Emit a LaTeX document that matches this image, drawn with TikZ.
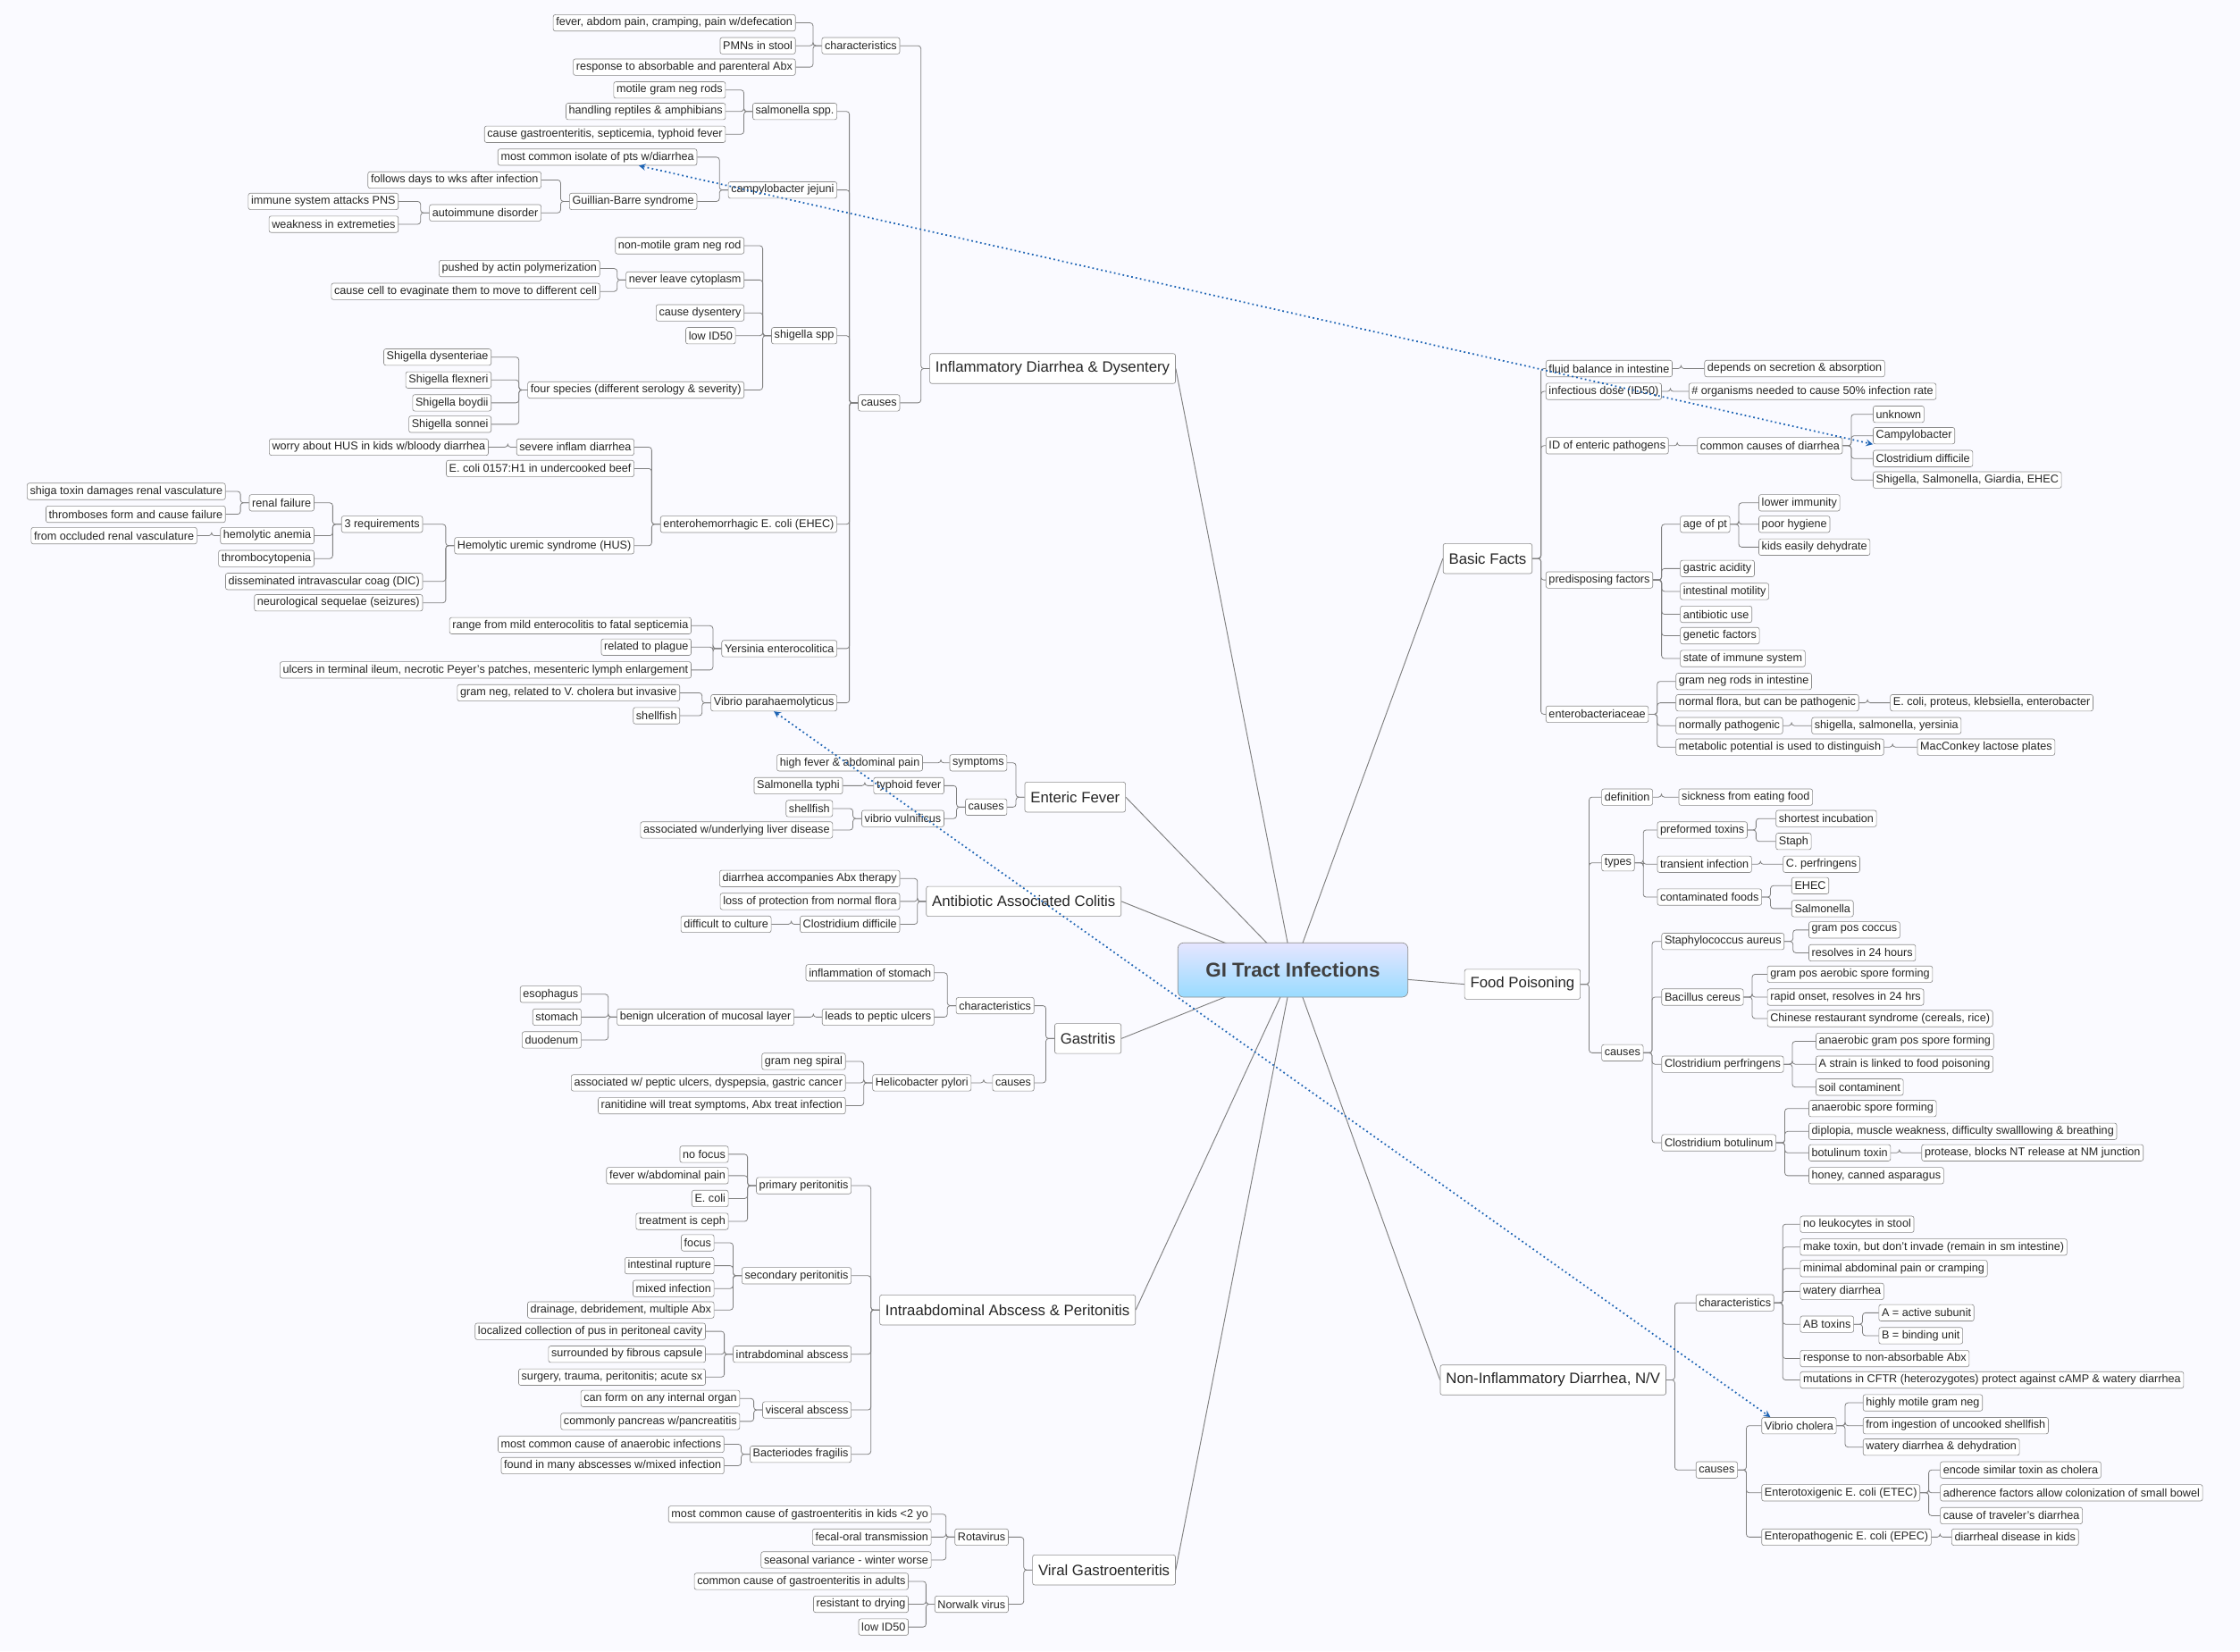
\documentclass[tikz,border=0pt]{standalone}
\usepackage{fontspec}
\setmainfont{Liberation Sans}
\pgfdeclarelayer{bg}\pgfsetlayers{bg,main}
\definecolor{relc}{RGB}{30,100,180}
\tikzset{
 leaf/.style={draw=black!45,fill=white,rounded corners=1.5pt,font=\fontsize{7.9}{8.5}\selectfont,inner xsep=2pt,inner ysep=0pt,minimum height=11.5pt,text=black!85},
 topic/.style={leaf,font=\fontsize{10.5}{11}\selectfont,minimum height=21pt,inner xsep=4pt},
 conn/.style={draw=black!50,line width=0.5pt,rounded corners=2pt},
 main/.style={draw=black!50,line width=0.6pt},
 rel/.style={draw=relc,dotted,line width=1.1pt,<->,>=stealth}
}
\newcommand\Lnd[4]{\node[leaf,anchor=east] (#1) at (#2,#3) {#4};}
\newcommand\Rnd[4]{\node[leaf,anchor=west] (#1) at (#2,#3) {#4};}
\newcommand\cL[2]{\foreach \kid in {#2}{\draw[conn] (#1.west) -- ++(-6,0) |- (\kid.east);}}
\newcommand\cR[2]{\foreach \kid in {#2}{\draw[conn] (#1.east) -- ++(6,0) |- (\kid.west);}}
\begin{document}
\begin{tikzpicture}[x=1pt,y=-1pt]
\begin{pgfonlayer}{bg}
\fill[black!3!blue!2!white] (0,0) rectangle (1568,1156);
\end{pgfonlayer}
\useasboundingbox (0,0) rectangle (1568,1156);
% center
\node[draw=black!45,rounded corners=4pt,top color=blue!10,bottom color=blue!35!cyan!40,minimum width=161pt,minimum height=38pt,font=\fontsize{14}{15}\selectfont\bfseries,text=black!75] (ctr) at (905,679) {GI Tract Infections};
% topics
\node[topic,anchor=east] (t1) at (823,258) {Inflammatory Diarrhea \& Dysentery};
\node[topic,anchor=east] (t2) at (788,558) {Enteric Fever};
\node[topic,anchor=east] (t3) at (785,631) {Antibiotic Associated Colitis};
\node[topic,anchor=east] (t4) at (785,727) {Gastritis};
\node[topic,anchor=east] (t5) at (795,917) {Intraabdominal Abscess \& Peritonitis};
\node[topic,anchor=east] (t6) at (823,1099) {Viral Gastroenteritis};
\node[topic,anchor=west] (t7) at (1010,391) {Basic Facts};
\node[topic,anchor=west] (t8) at (1025,689) {Food Poisoning};
\node[topic,anchor=west] (t9) at (1008,966) {Non-Inflammatory Diarrhea, N/V};
\begin{pgfonlayer}{bg}
\foreach \t in {t1,t2,t3,t4,t5,t6} \draw[main] (ctr.center) -- (\t.east);
\foreach \t in {t7,t8,t9} \draw[main] (ctr.center) -- (\t.west);
\end{pgfonlayer}
% ---------- Inflammatory
\Lnd{a1}{630}{32}{characteristics}
\Lnd{a11}{557}{16}{fever, abdom pain, cramping, pain w/defecation}
\Lnd{a12}{557}{32}{PMNs in stool}
\Lnd{a13}{557}{47}{response to absorbable and parenteral Abx}
\Lnd{a2}{630}{282}{causes}
\Lnd{s}{586}{78}{salmonella spp.}
\Lnd{s1}{508}{63}{motile gram neg rods}
\Lnd{s2}{508}{78}{handling reptiles \& amphibians}
\Lnd{s3}{508}{94}{cause gastroenteritis, septicemia, typhoid fever}
\Lnd{cj}{586}{133}{campylobacter jejuni}
\Lnd{mci}{488}{110}{most common isolate of pts w/diarrhea}
\Lnd{gb}{488}{141}{Guillian-Barre syndrome}
\Lnd{gb1}{379}{126}{follows days to wks after infection}
\Lnd{gb2}{379}{149}{autoimmune disorder}
\Lnd{gb21}{279}{141}{immune system attacks PNS}
\Lnd{gb22}{279}{157}{weakness in extremeties}
\Lnd{sh}{586}{235}{shigella spp}
\Lnd{sh1}{521}{172}{non-motile gram neg rod}
\Lnd{sh2}{521}{196}{never leave cytoplasm}
\Lnd{sh21}{420}{188}{pushed by actin polymerization}
\Lnd{sh22}{420}{204}{cause cell to evaginate them to move to different cell}
\Lnd{sh3}{521}{219}{cause dysentery}
\Lnd{sh4}{515}{235}{low ID50}
\Lnd{sh5}{521}{273}{four species (different serology \& severity)}
\Lnd{sh51}{344}{250}{Shigella dysenteriae}
\Lnd{sh52}{344}{266}{Shigella flexneri}
\Lnd{sh53}{344}{282}{Shigella boydii}
\Lnd{sh54}{344}{297}{Shigella sonnei}
\Lnd{eh}{586}{367}{enterohemorrhagic E. coli (EHEC)}
\Lnd{eh1}{444}{313}{severe inflam diarrhea}
\Lnd{eh11}{342}{313}{worry about HUS in kids w/bloody diarrhea}
\Lnd{eh2}{444}{328}{E. coli 0157:H1 in undercooked beef}
\Lnd{hus}{444}{382}{Hemolytic uremic syndrome (HUS)}
\Lnd{h1}{296}{367}{3 requirements}
\Lnd{h11}{220}{352}{renal failure}
\Lnd{h111}{158}{344}{shiga toxin damages renal vasculature}
\Lnd{h112}{158}{360}{thromboses form and cause failure}
\Lnd{h12}{220}{375}{hemolytic anemia}
\Lnd{h121}{138}{375}{from occluded renal vasculature}
\Lnd{h13}{220}{391}{thrombocytopenia}
\Lnd{h2}{296}{407}{disseminated intravascular coag (DIC)}
\Lnd{h3}{296}{422}{neurological sequelae (seizures)}
\Lnd{ye}{586}{454}{Yersinia enterocolitica}
\Lnd{ye1}{484}{438}{range from mild enterocolitis to fatal septicemia}
\Lnd{ye2}{484}{453}{related to plague}
\Lnd{ye3}{484}{469}{ulcers in terminal ileum, necrotic Peyer's patches, mesenteric lymph enlargement}
\Lnd{vp}{586}{492}{Vibrio parahaemolyticus}
\Lnd{vp1}{476}{485}{gram neg, related to V. cholera but invasive}
\Lnd{vp2}{476}{501}{shellfish}
\cL{t1}{a1,a2}
\cL{a1}{a11,a12,a13}
\cL{a2}{s,cj,sh,eh,ye,vp}
\cL{s}{s1,s2,s3}
\cL{cj}{mci,gb}
\cL{gb}{gb1,gb2}
\cL{gb2}{gb21,gb22}
\cL{sh}{sh1,sh2,sh3,sh4,sh5}
\cL{sh2}{sh21,sh22}
\cL{sh5}{sh51,sh52,sh53,sh54}
\cL{eh}{eh1,eh2,hus}
\cL{eh1}{eh11}
\cL{hus}{h1,h2,h3}
\cL{h1}{h11,h12,h13}
\cL{h11}{h111,h112}
\cL{h12}{h121}
\cL{ye}{ye1,ye2,ye3}
\cL{vp}{vp1,vp2}
% ---------- Enteric fever
\Lnd{ef1}{705}{534}{symptoms}
\Lnd{ef11}{646}{534}{high fever \& abdominal pain}
\Lnd{ef2}{705}{565}{causes}
\Lnd{ef21}{661}{550}{typhoid fever}
\Lnd{ef211}{590}{550}{Salmonella typhi}
\Lnd{ef22}{661}{573}{vibrio vulnificus}
\Lnd{ef221}{583}{566}{shellfish}
\Lnd{ef222}{583}{581}{associated w/underlying liver disease}
\cL{t2}{ef1,ef2}
\cL{ef1}{ef11}
\cL{ef2}{ef21,ef22}
\cL{ef21}{ef211}
\cL{ef22}{ef221,ef222}
% ---------- AAC
\Lnd{ac1}{630}{615}{diarrhea accompanies Abx therapy}
\Lnd{ac2}{630}{631}{loss of protection from normal flora}
\Lnd{ac3}{630}{647}{Clostridium difficile}
\Lnd{ac31}{540}{647}{difficult to culture}
\cL{t3}{ac1,ac2,ac3}
\cL{ac3}{ac31}
% ---------- Gastritis
\Lnd{g1}{724}{704}{characteristics}
\Lnd{g11}{654}{681}{inflammation of stomach}
\Lnd{g12}{654}{712}{leads to peptic ulcers}
\Lnd{g121}{556}{712}{benign ulceration of mucosal layer}
\Lnd{g1211}{407}{696}{esophagus}
\Lnd{g1212}{407}{712}{stomach}
\Lnd{g1213}{407}{728}{duodenum}
\Lnd{g2}{724}{758}{causes}
\Lnd{g21}{680}{758}{Helicobacter pylori}
\Lnd{g211}{592}{743}{gram neg spiral}
\Lnd{g212}{592}{758}{associated w/ peptic ulcers, dyspepsia, gastric cancer}
\Lnd{g213}{592}{774}{ranitidine will treat symptoms, Abx treat infection}
\cL{t4}{g1,g2}
\cL{g1}{g11,g12}
\cL{g12}{g121}
\cL{g121}{g1211,g1212,g1213}
\cL{g2}{g21}
\cL{g21}{g211,g212,g213}
% ---------- Intraabdominal
\Lnd{p1}{596}{830}{primary peritonitis}
\Lnd{p11}{510}{808}{no focus}
\Lnd{p12}{510}{823}{fever w/abdominal pain}
\Lnd{p13}{510}{839}{E. coli}
\Lnd{p14}{510}{855}{treatment is ceph}
\Lnd{p2}{596}{893}{secondary peritonitis}
\Lnd{p21}{500}{870}{focus}
\Lnd{p22}{500}{886}{intestinal rupture}
\Lnd{p23}{500}{902}{mixed infection}
\Lnd{p24}{500}{917}{drainage, debridement, multiple Abx}
\Lnd{p3}{596}{948}{intrabdominal abscess}
\Lnd{p31}{494}{932}{localized collection of pus in peritoneal cavity}
\Lnd{p32}{494}{948}{surrounded by fibrous capsule}
\Lnd{p33}{494}{964}{surgery, trauma, peritonitis; acute sx}
\Lnd{p4}{596}{987}{visceral abscess}
\Lnd{p41}{518}{979}{can form on any internal organ}
\Lnd{p42}{518}{995}{commonly pancreas w/pancreatitis}
\Lnd{p5}{596}{1018}{Bacteriodes fragilis}
\Lnd{p51}{507}{1011}{most common cause of anaerobic infections}
\Lnd{p52}{507}{1026}{found in many abscesses w/mixed infection}
\cL{t5}{p1,p2,p3,p4,p5}
\cL{p1}{p11,p12,p13,p14}
\cL{p2}{p21,p22,p23,p24}
\cL{p3}{p31,p32,p33}
\cL{p4}{p41,p42}
\cL{p5}{p51,p52}
% ---------- Viral
\Lnd{v1}{706}{1076}{Rotavirus}
\Lnd{v11}{652}{1060}{most common cause of gastroenteritis in kids <2 yo}
\Lnd{v12}{652}{1076}{fecal-oral transmission}
\Lnd{v13}{652}{1092}{seasonal variance - winter worse}
\Lnd{v2}{706}{1123}{Norwalk virus}
\Lnd{v21}{636}{1107}{common cause of gastroenteritis in adults}
\Lnd{v22}{636}{1123}{resistant to drying}
\Lnd{v23}{636}{1139}{low ID50}
\cL{t6}{v1,v2}
\cL{v1}{v11,v12,v13}
\cL{v2}{v21,v22,v23}
% ---------- Basic facts
\Rnd{b1}{1082}{258}{fluid balance in intestine}
\Rnd{b11}{1193}{258}{depends on secretion \& absorption}
\Rnd{b2}{1082}{274}{infectious dose (ID50)}
\Rnd{b21}{1182}{274}{\# organisms needed to cause 50\% infection rate}
\Rnd{b3}{1082}{312}{ID of enteric pathogens}
\Rnd{b31}{1188}{312}{common causes of diarrhea}
\Rnd{b311}{1311}{290}{unknown}
\Rnd{cmp}{1311}{305}{Campylobacter}
\Rnd{b313}{1311}{321}{Clostridium difficile}
\Rnd{b314}{1311}{336}{Shigella, Salmonella, Giardia, EHEC}
\Rnd{b4}{1082}{406}{predisposing factors}
\Rnd{b41}{1176}{367}{age of pt}
\Rnd{b411}{1231}{352}{lower immunity}
\Rnd{b412}{1231}{367}{poor hygiene}
\Rnd{b413}{1231}{383}{kids easily dehydrate}
\Rnd{b42}{1176}{398}{gastric acidity}
\Rnd{b43}{1176}{414}{intestinal motility}
\Rnd{b44}{1176}{430}{antibiotic use}
\Rnd{b45}{1176}{445}{genetic factors}
\Rnd{b46}{1176}{461}{state of immune system}
\Rnd{b5}{1082}{500}{enterobacteriaceae}
\Rnd{b51}{1173}{477}{gram neg rods in intestine}
\Rnd{b52}{1173}{492}{normal flora, but can be pathogenic}
\Rnd{b521}{1323}{492}{E. coli, proteus, klebsiella, enterobacter}
\Rnd{b53}{1173}{508}{normally pathogenic}
\Rnd{b531}{1268}{508}{shigella, salmonella, yersinia}
\Rnd{b54}{1173}{523}{metabolic potential is used to distinguish}
\Rnd{b541}{1342}{523}{MacConkey lactose plates}
\cR{t7}{b1,b2,b3,b4,b5}
\cR{b1}{b11}
\cR{b2}{b21}
\cR{b3}{b31}
\cR{b31}{b311,cmp,b313,b314}
\cR{b4}{b41,b42,b43,b44,b45,b46}
\cR{b41}{b411,b412,b413}
\cR{b5}{b51,b52,b53,b54}
\cR{b52}{b521}
\cR{b53}{b531}
\cR{b54}{b541}
% ---------- Food poisoning
\Rnd{f1}{1121}{558}{definition}
\Rnd{f11}{1175}{558}{sickness from eating food}
\Rnd{f2}{1121}{604}{types}
\Rnd{f21}{1160}{581}{preformed toxins}
\Rnd{f211}{1243}{573}{shortest incubation}
\Rnd{f212}{1243}{589}{Staph}
\Rnd{f22}{1160}{605}{transient infection}
\Rnd{f221}{1248}{605}{C. perfringens}
\Rnd{f23}{1160}{628}{contaminated foods}
\Rnd{f231}{1254}{620}{EHEC}
\Rnd{f232}{1254}{636}{Salmonella}
\Rnd{f3}{1121}{737}{causes}
\Rnd{f31}{1163}{659}{Staphylococcus aureus}
\Rnd{f311}{1266}{651}{gram pos coccus}
\Rnd{f312}{1266}{667}{resolves in 24 hours}
\Rnd{f32}{1163}{698}{Bacillus cereus}
\Rnd{f321}{1237}{682}{gram pos aerobic spore forming}
\Rnd{f322}{1237}{698}{rapid onset, resolves in 24 hrs}
\Rnd{f323}{1237}{713}{Chinese restaurant syndrome (cereals, rice)}
\Rnd{f33}{1163}{745}{Clostridium perfringens}
\Rnd{f331}{1271}{729}{anaerobic gram pos spore forming}
\Rnd{f332}{1271}{745}{A strain is linked to food poisoning}
\Rnd{f333}{1271}{761}{soil contaminent}
\Rnd{f34}{1163}{800}{Clostridium botulinum}
\Rnd{f341}{1266}{776}{anaerobic spore forming}
\Rnd{f342}{1266}{792}{diplopia, muscle weakness, difficulty swalllowing \& breathing}
\Rnd{f343}{1266}{807}{botulinum toxin}
\Rnd{f3431}{1345}{807}{protease, blocks NT release at NM junction}
\Rnd{f344}{1266}{823}{honey, canned asparagus}
\cR{t8}{f1,f2,f3}
\cR{f1}{f11}
\cR{f2}{f21,f22,f23}
\cR{f21}{f211,f212}
\cR{f22}{f221}
\cR{f23}{f231,f232}
\cR{f3}{f31,f32,f33,f34}
\cR{f31}{f311,f312}
\cR{f32}{f321,f322,f323}
\cR{f33}{f331,f332,f333}
\cR{f34}{f341,f342,f343,f344}
\cR{f343}{f3431}
% ---------- Non-inflammatory
\Rnd{n1}{1187}{912}{characteristics}
\Rnd{n11}{1260}{857}{no leukocytes in stool}
\Rnd{n12}{1260}{873}{make toxin, but don't invade (remain in sm intestine)}
\Rnd{n13}{1260}{888}{minimal abdominal pain or cramping}
\Rnd{n14}{1260}{904}{watery diarrhea}
\Rnd{n15}{1260}{927}{AB toxins}
\Rnd{n151}{1315}{919}{A = active subunit}
\Rnd{n152}{1315}{935}{B = binding unit}
\Rnd{n16}{1260}{951}{response to non-absorbable Abx}
\Rnd{n17}{1260}{966}{mutations in CFTR (heterozygotes) protect against cAMP \& watery diarrhea}
\Rnd{n2}{1187}{1029}{causes}
\Rnd{vc}{1233}{998}{Vibrio cholera}
\Rnd{vc1}{1304}{982}{highly motile gram neg}
\Rnd{vc2}{1304}{998}{from ingestion of uncooked shellfish}
\Rnd{vc3}{1304}{1013}{watery diarrhea \& dehydration}
\Rnd{et}{1233}{1045}{Enterotoxigenic E. coli (ETEC)}
\Rnd{et1}{1358}{1029}{encode similar toxin as cholera}
\Rnd{et2}{1358}{1045}{adherence factors allow colonization of small bowel}
\Rnd{et3}{1358}{1061}{cause of traveler's diarrhea}
\Rnd{ep}{1233}{1076}{Enteropathogenic E. coli (EPEC)}
\Rnd{ep1}{1366}{1076}{diarrheal disease in kids}
\cR{t9}{n1,n2}
\cR{n1}{n11,n12,n13,n14,n15,n16,n17}
\cR{n15}{n151,n152}
\cR{n2}{vc,et,ep}
\cR{vc}{vc1,vc2,vc3}
\cR{et}{et1,et2,et3}
\cR{ep}{ep1}
% relationships
\draw[rel] ([xshift=29pt]mci.south) -- ([yshift=-6pt]cmp.west);
\draw[rel] (vp.south) -- ([xshift=-20pt]vc.north);
\end{tikzpicture}
\end{document}
